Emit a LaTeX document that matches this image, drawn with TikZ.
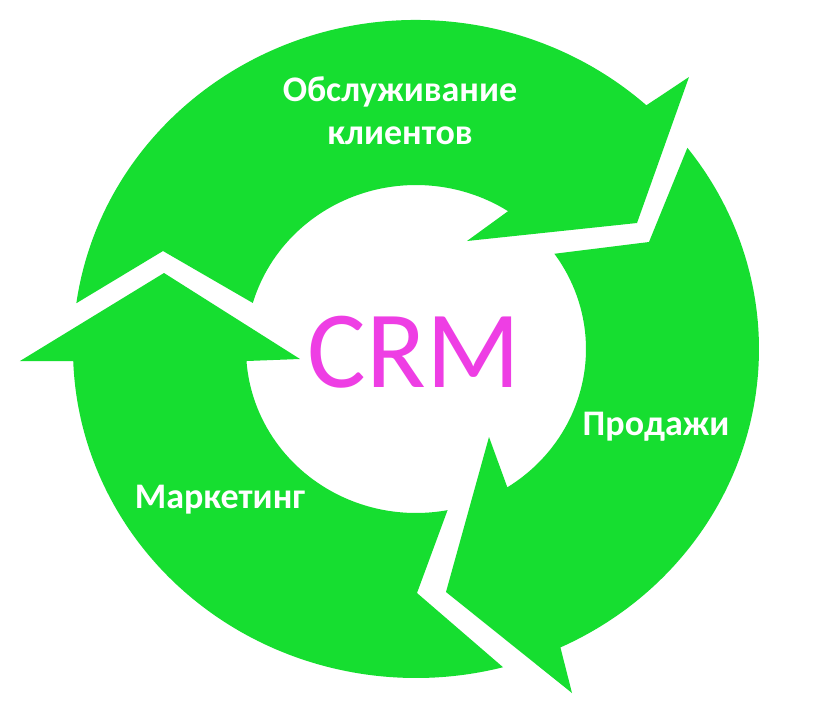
\documentclass[tikz,border=0pt]{standalone}
\usepackage{fontspec}
\setmainfont{Carlito}
\definecolor{ringgreen}{RGB}{22,222,48}
\definecolor{crmmagenta}{RGB}{238,62,228}
\begin{document}
\begin{tikzpicture}[x=1pt,y=1pt,
  arrowshape/.style={fill=ringgreen, draw=none},
  lbl/.style={text=white, font=\bfseries\fontsize{36}{43}\selectfont, anchor=base, inner sep=0pt}]
\useasboundingbox (-416,-372) rectangle (397,349);
\fill[white] (-416,-372) rectangle (397,349);
% top arrow
\path[arrowshape] (172:343 and 329) arc[start angle=172, end angle=47.8, x radius=343, y radius=329]
  -- (273,272) -- (221,126) -- (51,108)
  -- (57.2:170 and 164) arc[start angle=57.2, end angle=163.7, x radius=170, y radius=164]
  -- (-253,98) -- cycle;
% right arrow
\path[arrowshape] (37.7:343 and 329) arc[start angle=37.7, end angle=-65.1, x radius=343, y radius=329]
  -- (156,-344) -- (30,-243) -- (73,-88)
  -- (-57.5:170 and 164) arc[start angle=-57.5, end angle=35.5, x radius=170, y radius=164]
  -- (233,107) -- cycle;
% left arrow
\path[arrowshape] (-75.3:343 and 329) arc[start angle=-75.3, end angle=-177.9, x radius=343, y radius=329]
  -- (-396,-12) -- (-252,76) -- (-116,-10)
  -- (-175.8:170 and 164) arc[start angle=-175.8, end angle=-79.3, x radius=170, y radius=164]
  -- (1,-244) -- cycle;
% labels
\node[lbl] (service1) at (-16,248) {Обслуживание};
\node[lbl] (service2) at (-16,205) {клиентов};
\node[lbl] (sales) at (240,-86) {Продажи};
\node[lbl] (marketing) at (-196,-159) {Маркетинг};
\node[text=crmmagenta, font=\fontsize{110}{120}\selectfont, anchor=base, inner sep=0pt] (crm) at (-2,-38) {CRM};
\end{tikzpicture}
\end{document}
